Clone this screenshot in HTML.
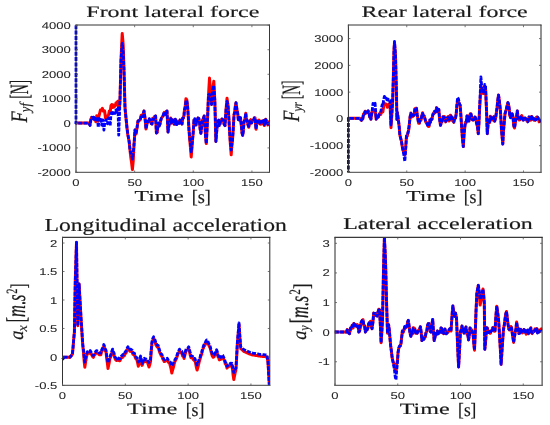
<!DOCTYPE html>
<html><head><meta charset="utf-8"><title>Vehicle dynamics plots</title>
<style>html,body{margin:0;padding:0;background:#fff;}svg{display:block;}text{text-rendering:geometricPrecision;}</style></head>
<body><svg width="550" height="425" viewBox="0 0 550 425">
<rect width="550" height="425" fill="#fff"/>
<g transform="translate(86.30,17.00) scale(1.1986,0.8000)"><text x="0" y="0" font-family="'Liberation Serif', serif" font-size="20" fill="#1a1a1a" stroke="#1a1a1a" stroke-width="0.2">Front lateral force</text></g>
<g transform="translate(361.40,16.90) scale(1.1978,0.8067)"><text x="0" y="0" font-family="'Liberation Serif', serif" font-size="20" fill="#1a1a1a" stroke="#1a1a1a" stroke-width="0.2">Rear lateral force</text></g>
<g transform="translate(44.51,230.67) scale(1.1824,0.9173)"><text x="0" y="0" font-family="'Liberation Serif', serif" font-size="20" fill="#1a1a1a" stroke="#1a1a1a" stroke-width="0.2">Longitudinal acceleration</text></g>
<g transform="translate(343.20,229.39) scale(1.1987,0.8271)"><text x="0" y="0" font-family="'Liberation Serif', serif" font-size="20" fill="#1a1a1a" stroke="#1a1a1a" stroke-width="0.2">Lateral acceleration</text></g>
<g transform="translate(134.50,201.22) scale(1.1877,0.7571)"><text x="0" y="0" font-family="'Liberation Serif', serif" font-size="20" fill="#1a1a1a" stroke="#1a1a1a" stroke-width="0.2">Time</text></g>
<g transform="translate(191.66,202.78) scale(0.9081,0.9412)"><text x="0" y="0" font-family="'Liberation Serif', serif" font-size="20" fill="#1a1a1a" stroke="#1a1a1a" stroke-width="0.2">[s]</text></g>
<g transform="translate(406.10,201.22) scale(1.1926,0.7571)"><text x="0" y="0" font-family="'Liberation Serif', serif" font-size="20" fill="#1a1a1a" stroke="#1a1a1a" stroke-width="0.2">Time</text></g>
<g transform="translate(463.69,202.78) scale(0.8865,0.9412)"><text x="0" y="0" font-family="'Liberation Serif', serif" font-size="20" fill="#1a1a1a" stroke="#1a1a1a" stroke-width="0.2">[s]</text></g>
<g transform="translate(126.90,414.40) scale(1.2172,0.8000)"><text x="0" y="0" font-family="'Liberation Serif', serif" font-size="20" fill="#1a1a1a" stroke="#1a1a1a" stroke-width="0.2">Time</text></g>
<g transform="translate(185.69,415.58) scale(0.8865,0.9412)"><text x="0" y="0" font-family="'Liberation Serif', serif" font-size="20" fill="#1a1a1a" stroke="#1a1a1a" stroke-width="0.2">[s]</text></g>
<g transform="translate(399.70,414.01) scale(1.2025,0.7857)"><text x="0" y="0" font-family="'Liberation Serif', serif" font-size="20" fill="#1a1a1a" stroke="#1a1a1a" stroke-width="0.2">Time</text></g>
<g transform="translate(458.12,415.58) scale(0.8649,0.9412)"><text x="0" y="0" font-family="'Liberation Serif', serif" font-size="20" fill="#1a1a1a" stroke="#1a1a1a" stroke-width="0.2">[s]</text></g>
<g transform="translate(27.00,122.57) rotate(-90) scale(0.9098,1.1778)"><text x="0" y="0" font-family="'Liberation Serif', serif" font-size="20" font-style="italic" fill="#1a1a1a" stroke="#1a1a1a" stroke-width="0.2">F</text></g>
<g transform="translate(29.64,112.16) rotate(-90) scale(0.6486,0.7474)"><text x="0" y="0" font-family="'Liberation Serif', serif" font-size="20" font-style="italic" fill="#1a1a1a" stroke="#1a1a1a" stroke-width="0.2">yf</text></g>
<g transform="translate(28.25,98.85) rotate(-90) scale(0.6812,1.3176)"><text x="0" y="0" font-family="'Liberation Serif', serif" font-size="20" fill="#1a1a1a" stroke="#1a1a1a" stroke-width="0.2">[N]</text></g>
<g transform="translate(298.90,121.87) rotate(-90) scale(0.9098,1.1704)"><text x="0" y="0" font-family="'Liberation Serif', serif" font-size="20" font-style="italic" fill="#1a1a1a" stroke="#1a1a1a" stroke-width="0.2">F</text></g>
<g transform="translate(301.68,111.60) rotate(-90) scale(0.5730,0.7158)"><text x="0" y="0" font-family="'Liberation Serif', serif" font-size="20" font-style="italic" fill="#1a1a1a" stroke="#1a1a1a" stroke-width="0.2">yr</text></g>
<g transform="translate(300.43,99.25) rotate(-90) scale(0.6772,1.3235)"><text x="0" y="0" font-family="'Liberation Serif', serif" font-size="20" fill="#1a1a1a" stroke="#1a1a1a" stroke-width="0.2">[N]</text></g>
<g transform="translate(22.90,339.66) rotate(-90) scale(0.9111,1.0049)"><text x="0" y="0" font-family="'Liberation Serif', serif" font-size="20" font-style="italic" fill="#1a1a1a" stroke="#1a1a1a" stroke-width="0.2">a</text></g>
<g transform="translate(26.92,331.44) rotate(-90) scale(0.7135,0.7179)"><text x="0" y="0" font-family="'Liberation Serif', serif" font-size="20" font-style="italic" fill="#1a1a1a" stroke="#1a1a1a" stroke-width="0.2">x</text></g>
<g transform="translate(25.04,322.53) rotate(-90) scale(0.8279,1.3529)"><text x="0" y="0" font-family="'Liberation Serif', serif" font-size="20" fill="#1a1a1a" stroke="#1a1a1a" stroke-width="0.2">[<tspan font-style="italic">m</tspan>.<tspan font-style="italic">s</tspan></text></g>
<g transform="translate(25.85,293.67) rotate(-90) scale(0.7404,1.1181)"><text x="0" y="0" font-family="'Liberation Serif', serif" font-size="20" fill="#1a1a1a" stroke="#1a1a1a" stroke-width="0.2"><tspan font-size="14" dy="-8">2</tspan><tspan dy="8">]</tspan></text></g>
<g transform="translate(305.70,339.66) rotate(-90) scale(0.9111,1.0049)"><text x="0" y="0" font-family="'Liberation Serif', serif" font-size="20" font-style="italic" fill="#1a1a1a" stroke="#1a1a1a" stroke-width="0.2">a</text></g>
<g transform="translate(309.49,330.73) rotate(-90) scale(0.6140,0.7357)"><text x="0" y="0" font-family="'Liberation Serif', serif" font-size="20" font-style="italic" fill="#1a1a1a" stroke="#1a1a1a" stroke-width="0.2">y</text></g>
<g transform="translate(308.41,323.31) rotate(-90) scale(0.8062,1.3294)"><text x="0" y="0" font-family="'Liberation Serif', serif" font-size="20" fill="#1a1a1a" stroke="#1a1a1a" stroke-width="0.2">[<tspan font-style="italic">m</tspan>.<tspan font-style="italic">s</tspan></text></g>
<g transform="translate(308.72,294.70) rotate(-90) scale(0.8000,1.1277)"><text x="0" y="0" font-family="'Liberation Serif', serif" font-size="20" fill="#1a1a1a" stroke="#1a1a1a" stroke-width="0.2"><tspan font-size="14" dy="-8">2</tspan><tspan dy="8">]</tspan></text></g>
<clipPath id="cTL"><rect x="74.0" y="25.2" width="195.5" height="147.26000000000002"/></clipPath>
<polyline clip-path="url(#cTL)" points="75.7,123.1 76.4,123.1 77.2,123.1 77.9,123.1 78.7,123.1 79.4,123.1 80.1,123.1 80.9,123.1 81.6,123.1 82.3,123.1 83.1,123.1 83.8,123.1 84.6,123.1 85.3,123.1 86.0,123.1 86.8,123.1 87.5,123.1 88.3,123.1 89.0,123.1 90.0,125.0 91.0,119.0 91.7,117.2 92.3,117.6 93.0,118.5 93.7,117.4 94.3,119.5 95.0,118.0 95.8,121.7 96.7,115.8 97.5,118.0 98.2,121.0 98.8,116.5 99.5,114.0 100.4,110.0 101.1,109.9 101.8,109.8 102.4,108.4 103.0,111.0 103.9,110.5 104.6,111.0 105.5,118.0 106.0,117.5 106.7,117.9 107.4,116.0 108.5,115.0 109.3,111.1 110.2,112.0 111.0,105.5 111.7,104.5 112.3,107.5 113.0,105.0 113.7,107.3 114.5,106.3 115.2,106.0 115.9,103.1 116.6,104.8 117.3,101.8 118.0,101.2 118.7,110.0 119.3,107.8 120.0,100.0 121.0,60.0 121.6,46.5 122.2,33.5 123.2,45.0 124.0,70.0 125.0,108.0 126.0,118.0 127.0,128.0 127.8,134.8 128.5,138.0 129.2,142.4 130.0,150.0 130.8,157.5 131.5,162.0 132.4,169.5 133.3,160.0 134.0,145.0 135.0,130.0 136.0,134.0 137.0,128.0 138.0,121.0 138.7,121.1 139.3,120.5 140.0,120.0 140.7,117.6 141.3,115.2 142.0,116.0 142.7,115.7 143.3,113.6 144.0,111.0 145.0,118.0 146.0,129.0 146.7,125.4 147.3,122.0 148.0,122.0 148.7,121.2 149.3,119.4 150.0,120.0 150.7,122.0 151.3,123.7 152.0,124.0 152.7,118.3 153.3,119.4 154.0,119.0 154.8,116.3 155.6,116.0 156.4,133.0 157.2,132.7 158.0,125.0 158.7,123.4 159.3,125.2 160.0,124.0 160.8,119.6 161.5,118.2 162.2,117.2 163.0,116.0 163.7,114.0 164.3,112.4 165.0,113.0 165.7,114.8 166.3,112.2 167.0,111.0 168.0,132.0 168.7,126.9 169.3,123.9 170.0,122.0 170.7,117.9 171.3,123.3 172.0,120.0 172.7,119.7 173.3,120.2 174.0,124.0 174.7,124.3 175.3,119.6 176.0,121.0 176.7,124.3 177.3,121.1 178.0,123.0 178.7,122.5 179.3,123.1 180.0,120.0 180.7,121.5 181.3,121.7 182.0,124.0 182.7,117.9 183.3,118.4 184.0,115.0 184.6,109.0 185.3,105.5 185.9,98.8 186.7,99.4 187.5,105.0 188.2,115.3 189.0,130.0 189.7,139.8 190.5,147.9 191.2,157.0 191.8,150.2 192.5,140.0 193.2,132.9 194.0,120.0 194.7,119.5 195.3,121.3 196.0,125.0 196.7,119.9 197.3,120.7 198.0,118.0 198.8,118.4 199.5,122.0 200.2,129.5 200.9,133.3 201.7,126.6 202.5,120.0 203.3,118.6 204.2,116.0 204.9,125.5 205.6,136.2 206.3,143.6 206.9,131.7 207.5,120.0 208.5,95.0 209.5,78.0 210.5,90.0 211.6,104.4 212.7,90.0 213.8,81.2 214.8,100.0 215.9,141.5 217.0,128.0 218.0,121.0 218.7,120.5 219.3,125.0 220.0,124.0 220.7,120.0 221.3,120.3 222.0,119.0 222.7,120.0 223.3,120.5 224.0,124.0 225.0,125.6 226.0,110.0 227.0,98.3 228.0,105.0 228.8,116.9 229.5,130.0 230.3,143.1 231.2,154.8 231.8,146.7 232.5,140.0 233.2,129.9 234.0,115.0 234.7,111.5 235.3,106.5 236.0,102.7 237.0,110.0 237.7,112.9 238.3,119.5 239.0,117.8 239.8,120.7 240.5,117.7 241.2,124.3 242.0,133.2 242.7,135.4 243.3,130.7 244.0,122.0 244.9,119.7 245.8,113.3 246.4,119.8 247.0,120.0 248.0,124.8 248.7,127.3 249.3,125.1 250.0,121.0 250.8,119.7 251.5,123.0 252.2,120.9 253.0,120.0 253.7,120.2 254.3,118.0 255.0,117.7 256.0,129.2 257.0,122.0 257.7,121.6 258.3,120.6 259.0,120.0 259.7,123.6 260.3,124.2 261.0,124.0 261.7,121.4 262.3,123.8 263.0,121.0 263.7,121.4 264.3,125.6 265.0,123.0 265.7,119.2 266.3,120.7 267.0,121.0 267.8,125.0 268.6,121.9 269.4,122.0" fill="none" stroke="#f00" stroke-width="3.0" stroke-linejoin="round"/>
<polyline clip-path="url(#cTL)" points="76.0,20.0 76.0,123.1 75.7,123.1 76.4,123.1 77.2,123.1 77.9,123.1 78.7,123.1 79.4,123.1 80.1,123.1 80.9,123.1 81.6,123.1 82.3,123.1 83.1,123.1 83.8,123.1 84.6,123.1 85.3,123.1 86.0,123.1 86.8,123.1 87.5,123.1 88.3,123.1 89.0,123.1 90.0,125.5 91.0,119.0 91.7,117.4 92.3,117.5 93.0,118.5 93.7,117.2 94.3,119.4 95.0,118.2 95.8,121.3 96.7,116.9 97.5,118.2 98.2,127.4 98.8,122.2 99.5,119.0 100.4,117.5 101.1,120.9 101.8,125.2 102.4,119.9 103.0,120.0 103.9,130.2 104.6,124.0 105.5,121.0 106.0,119.6 106.7,122.8 107.4,123.8 108.5,118.0 109.3,119.5 110.2,126.0 111.0,113.2 111.7,112.7 112.3,114.6 113.0,112.5 113.7,115.4 114.5,113.0 115.2,113.2 115.9,109.9 116.6,112.0 117.3,109.5 118.0,108.3 118.7,135.1 119.3,119.9 120.0,100.0 121.0,60.0 121.6,51.6 122.2,43.3 123.2,52.0 124.0,70.0 125.0,108.0 126.0,118.0 127.0,128.0 127.8,134.1 128.5,138.0 129.2,141.5 130.0,150.0 130.8,152.9 131.5,154.0 132.4,159.0 133.3,152.0 134.0,145.0 135.0,130.0 136.0,134.0 137.0,128.0 138.0,121.0 138.7,120.7 139.3,119.6 140.0,120.0 140.7,118.0 141.3,114.9 142.0,116.0 142.7,116.6 143.3,113.1 144.0,111.0 145.0,118.0 146.0,129.0 146.7,125.4 147.3,121.2 148.0,122.0 148.7,120.6 149.3,118.7 150.0,120.0 150.7,121.1 151.3,123.7 152.0,124.0 152.7,119.2 153.3,119.1 154.0,119.0 154.8,116.4 155.6,116.0 156.4,133.0 157.2,131.9 158.0,125.0 158.7,123.0 159.3,126.2 160.0,124.0 160.8,120.5 161.5,118.1 162.2,117.7 163.0,116.0 163.7,113.5 164.3,111.8 165.0,113.0 165.7,114.3 166.3,111.4 167.0,111.0 168.0,132.0 168.7,126.6 169.3,123.1 170.0,122.0 170.7,118.7 171.3,122.8 172.0,120.0 172.7,119.9 173.3,120.9 174.0,124.0 174.7,123.5 175.3,119.1 176.0,121.0 176.7,124.7 177.3,120.7 178.0,123.0 178.7,123.3 179.3,123.1 180.0,120.0 180.7,122.3 181.3,121.6 182.0,124.0 182.7,118.1 183.3,118.0 184.0,115.0 184.6,109.4 185.3,107.3 185.9,101.5 186.7,100.3 187.5,105.0 188.2,115.2 189.0,130.0 189.7,137.7 190.5,144.1 191.2,151.8 191.8,147.0 192.5,140.0 193.2,132.3 194.0,120.0 194.7,118.6 195.3,121.7 196.0,125.0 196.7,119.6 197.3,121.3 198.0,118.0 198.8,118.5 199.5,122.0 200.2,129.3 200.9,133.3 201.7,126.1 202.5,120.0 203.3,118.7 204.2,116.0 204.9,126.2 205.6,137.2 206.3,143.6 206.9,132.5 207.5,120.0 208.5,95.0 209.5,94.0 210.5,98.0 211.6,104.4 212.7,90.0 213.8,85.4 214.8,100.0 215.9,141.5 217.0,128.0 218.0,121.0 218.7,120.1 219.3,125.7 220.0,124.0 220.7,120.1 221.3,120.1 222.0,119.0 222.7,119.5 223.3,120.1 224.0,124.0 225.0,125.6 226.0,110.0 227.0,101.3 228.0,105.0 228.8,117.8 229.5,130.0 230.3,141.1 231.2,150.0 231.8,144.7 232.5,140.0 233.2,129.7 234.0,115.0 234.7,112.2 235.3,106.8 236.0,102.7 237.0,110.0 237.7,113.9 238.3,119.5 239.0,117.2 239.8,120.9 240.5,117.7 241.2,123.6 242.0,132.7 242.7,135.4 243.3,131.5 244.0,122.0 244.9,119.2 245.8,113.3 246.4,119.6 247.0,120.0 248.0,124.8 248.7,126.4 249.3,124.6 250.0,121.0 250.8,119.9 251.5,123.0 252.2,121.8 253.0,120.0 253.7,119.8 254.3,117.8 255.0,117.7 256.0,129.2 257.0,122.0 257.7,121.4 258.3,119.9 259.0,120.0 259.7,122.9 260.3,123.6 261.0,124.0 261.7,121.3 262.3,123.7 263.0,121.0 263.7,120.5 264.3,124.6 265.0,123.0 265.7,119.5 266.3,121.2 267.0,121.0 267.8,124.1 268.6,122.7 269.4,122.0" fill="none" stroke="#00f" stroke-width="2.8" stroke-dasharray="4 1.3" stroke-linejoin="round"/>
<line x1="76.0" y1="24.7" x2="76.0" y2="172.96" stroke="#262626" stroke-width="1"/>
<line x1="75.5" y1="25.0" x2="270.0" y2="25.0" stroke="#333" stroke-width="1"/>
<line x1="269.5" y1="24.7" x2="269.5" y2="172.96" stroke="#383838" stroke-width="1"/>
<line x1="75.5" y1="172.46" x2="270.0" y2="172.46" stroke="#666" stroke-width="1.3"/>
<text transform="translate(76.00,185.91) scale(1.3057,0.9857)" x="0" y="0" text-anchor="middle" font-family="'Liberation Sans', sans-serif" font-size="10" fill="#262626" stroke="#262626" stroke-width="0.06">0</text>
<text transform="translate(134.64,185.91) scale(1.3057,0.9857)" x="0" y="0" text-anchor="middle" font-family="'Liberation Sans', sans-serif" font-size="10" fill="#262626" stroke="#262626" stroke-width="0.06">50</text>
<text transform="translate(193.27,185.91) scale(1.3057,0.9857)" x="0" y="0" text-anchor="middle" font-family="'Liberation Sans', sans-serif" font-size="10" fill="#262626" stroke="#262626" stroke-width="0.06">100</text>
<text transform="translate(251.91,185.91) scale(1.3057,0.9857)" x="0" y="0" text-anchor="middle" font-family="'Liberation Sans', sans-serif" font-size="10" fill="#262626" stroke="#262626" stroke-width="0.06">150</text>
<text transform="translate(70.80,176.01) scale(1.3057,0.9857)" x="0" y="0" text-anchor="end" font-family="'Liberation Sans', sans-serif" font-size="10" fill="#262626" stroke="#262626" stroke-width="0.06">-2000</text>
<text transform="translate(70.80,151.47) scale(1.3057,0.9857)" x="0" y="0" text-anchor="end" font-family="'Liberation Sans', sans-serif" font-size="10" fill="#262626" stroke="#262626" stroke-width="0.06">-1000</text>
<text transform="translate(70.80,126.92) scale(1.3057,0.9857)" x="0" y="0" text-anchor="end" font-family="'Liberation Sans', sans-serif" font-size="10" fill="#262626" stroke="#262626" stroke-width="0.06">0</text>
<text transform="translate(70.80,102.38) scale(1.3057,0.9857)" x="0" y="0" text-anchor="end" font-family="'Liberation Sans', sans-serif" font-size="10" fill="#262626" stroke="#262626" stroke-width="0.06">1000</text>
<text transform="translate(70.80,77.84) scale(1.3057,0.9857)" x="0" y="0" text-anchor="end" font-family="'Liberation Sans', sans-serif" font-size="10" fill="#262626" stroke="#262626" stroke-width="0.06">2000</text>
<text transform="translate(70.80,53.29) scale(1.3057,0.9857)" x="0" y="0" text-anchor="end" font-family="'Liberation Sans', sans-serif" font-size="10" fill="#262626" stroke="#262626" stroke-width="0.06">3000</text>
<text transform="translate(70.80,28.75) scale(1.3057,0.9857)" x="0" y="0" text-anchor="end" font-family="'Liberation Sans', sans-serif" font-size="10" fill="#262626" stroke="#262626" stroke-width="0.06">4000</text>
<path d="M76.00,172.46v-2.0M76.00,25.2v2.0M134.64,172.46v-2.0M134.64,25.2v2.0M193.27,172.46v-2.0M193.27,25.2v2.0M251.91,172.46v-2.0M251.91,25.2v2.0M76.0,172.46h2.0M269.5,172.46h-2.0M76.0,147.92h2.0M269.5,147.92h-2.0M76.0,123.37h2.0M269.5,123.37h-2.0M76.0,98.83h2.0M269.5,98.83h-2.0M76.0,74.29h2.0M269.5,74.29h-2.0M76.0,49.74h2.0M269.5,49.74h-2.0M76.0,25.20h2.0M269.5,25.20h-2.0" stroke="#555" stroke-width="0.8" fill="none"/>
<clipPath id="cTR"><rect x="346.4" y="25.2" width="194.60000000000002" height="147.26000000000002"/></clipPath>
<polyline clip-path="url(#cTR)" points="348.2,118.3 349.0,118.3 349.7,118.3 350.5,118.3 351.3,118.3 352.1,118.3 352.8,118.3 353.6,118.3 354.4,118.3 355.2,118.3 355.9,118.3 356.7,118.3 357.5,118.3 358.3,118.3 359.0,118.3 359.8,118.3 360.6,119.4 361.4,120.3 362.1,118.2 362.8,119.0 363.5,113.9 364.3,113.6 365.1,111.2 365.9,113.3 366.7,112.0 367.5,112.2 368.2,111.2 369.0,112.5 369.6,117.1 370.3,116.1 370.9,119.2 372.0,112.0 373.0,109.7 373.7,111.2 374.4,110.1 375.1,110.5 376.2,119.2 376.9,116.7 377.6,116.6 378.3,117.1 379.1,114.7 380.0,113.0 380.8,114.4 381.5,111.8 382.2,109.5 382.9,111.9 383.6,106.5 384.4,103.2 385.2,104.3 386.0,104.0 386.7,104.5 387.3,107.3 388.0,105.0 388.7,105.1 389.3,103.9 390.0,103.3 391.0,127.7 391.9,113.5 392.7,100.0 393.4,74.8 394.0,50.0 394.5,42.5 395.5,55.0 396.5,95.0 396.9,119.4 397.4,112.6 398.5,121.0 399.2,126.9 399.9,135.1 400.6,138.0 401.4,140.8 402.3,146.9 403.1,150.7 404.0,152.8 404.8,155.0 405.6,147.7 406.5,135.9 407.2,136.3 408.0,132.7 408.7,129.8 409.4,123.5 410.1,116.8 410.9,113.0 411.7,117.0 412.5,116.6 413.3,114.7 414.1,115.5 414.9,108.8 415.7,108.3 416.5,108.3 417.2,114.4 417.9,118.6 418.6,123.2 419.4,123.2 420.2,119.4 421.0,120.3 421.8,115.7 422.6,112.8 423.4,116.2 424.2,116.1 425.0,118.9 425.8,122.2 426.6,122.4 427.4,124.6 428.2,126.3 429.0,126.5 429.8,120.6 430.5,121.7 431.3,118.9 432.1,118.5 432.9,114.8 433.7,112.9 434.5,111.5 435.2,112.7 435.9,111.2 436.6,107.6 437.4,111.5 438.1,109.4 438.8,109.4 439.6,118.8 440.5,125.3 441.3,122.9 442.2,121.1 443.0,116.8 443.7,117.6 444.3,116.6 445.0,119.0 445.7,121.9 446.5,120.4 447.2,117.9 448.1,116.6 449.0,121.0 449.7,116.6 450.3,115.2 451.0,116.0 451.7,120.3 452.3,118.0 453.0,120.0 453.8,122.4 454.7,118.7 455.5,118.0 456.2,114.4 456.9,106.1 457.6,101.4 458.5,101.5 459.3,103.8 460.2,105.3 460.9,115.4 461.5,125.0 462.4,138.2 463.3,146.6 464.1,134.0 465.0,125.0 465.7,122.2 466.3,122.5 467.0,116.0 467.7,120.6 468.3,115.9 469.0,121.0 469.7,117.1 470.3,113.8 471.0,114.0 471.7,116.9 472.3,119.8 473.0,120.0 473.7,118.8 474.3,118.5 475.0,117.0 475.8,118.1 476.5,123.0 477.4,126.5 478.3,133.7 478.9,123.7 479.5,110.0 480.2,99.5 480.9,85.9 482.0,90.0 482.7,90.0 483.4,93.6 484.1,92.8 484.8,86.6 485.5,88.0 486.5,110.0 487.3,133.7 488.1,123.6 489.0,120.0 489.7,122.5 490.3,116.3 491.0,117.0 491.7,117.7 492.3,119.9 493.0,120.0 493.9,116.6 494.7,121.2 495.6,118.0 496.3,113.5 497.0,108.0 497.8,100.1 498.5,95.1 499.1,98.9 499.8,104.9 500.4,110.0 501.5,130.0 502.1,136.5 502.8,144.0 503.4,131.8 504.0,125.0 505.0,113.9 505.7,111.2 506.4,109.3 507.2,105.5 507.9,102.6 508.5,104.5 509.2,108.3 509.8,115.8 510.6,117.3 511.4,114.2 512.2,113.9 513.0,117.2 513.7,125.7 514.5,128.0 515.2,123.6 516.0,118.0 516.6,116.3 517.3,111.0 518.1,117.1 519.0,120.0 519.7,119.8 520.3,118.9 521.0,117.0 521.7,115.6 522.3,117.0 523.0,120.0 523.7,119.7 524.3,119.2 525.0,118.0 525.7,119.0 526.3,118.7 527.0,121.0 527.7,121.3 528.3,120.9 529.0,117.0 529.7,117.0 530.3,120.2 531.0,120.0 531.7,116.4 532.3,119.3 533.0,118.0 533.7,119.1 534.3,120.3 535.0,120.0 535.7,120.0 536.3,117.4 537.0,117.0 537.7,117.5 538.4,119.1 539.1,121.9 539.8,121.0 540.5,119.0" fill="none" stroke="#f00" stroke-width="3.0" stroke-linejoin="round"/>
<polyline clip-path="url(#cTR)" points="348.4,180.0 348.4,118.3 348.2,118.3 349.0,118.3 349.7,118.3 350.5,118.3 351.3,118.3 352.1,118.3 352.8,118.3 353.6,118.3 354.4,118.3 355.2,118.3 355.9,118.3 356.7,118.3 357.5,118.3 358.3,118.3 359.0,118.3 359.8,118.3 360.6,119.2 361.4,120.3 362.1,117.7 362.8,118.4 363.5,113.9 364.3,114.2 365.1,111.7 365.9,112.8 366.7,112.0 367.5,112.4 368.2,110.8 369.0,112.5 369.6,116.6 370.3,116.0 370.9,119.2 372.0,112.0 373.0,103.3 373.7,104.5 374.4,104.0 375.1,103.3 376.2,119.2 376.9,116.2 377.6,116.1 378.3,117.1 379.1,114.7 380.0,113.0 380.8,111.8 381.5,107.6 382.2,104.6 382.9,105.5 383.6,100.0 384.4,96.4 385.2,98.9 386.0,98.0 386.7,98.9 387.3,101.6 388.0,99.0 388.7,100.1 389.3,99.5 390.0,100.1 391.0,125.0 391.9,112.5 392.7,100.0 393.4,75.0 394.0,50.0 394.5,41.5 395.5,55.0 396.5,95.0 396.9,119.4 397.4,112.6 398.5,121.0 399.2,126.6 399.9,135.3 400.6,138.0 401.4,141.1 402.3,146.7 403.1,150.7 404.0,155.8 404.8,161.3 405.6,151.5 406.5,135.9 407.2,135.4 408.0,132.7 408.7,129.1 409.4,124.0 410.1,116.8 410.9,113.3 411.7,116.9 412.5,117.3 413.3,114.7 414.1,114.8 414.9,109.1 415.7,107.7 416.5,108.3 417.2,115.0 417.9,119.2 418.6,123.2 419.4,122.7 420.2,119.7 421.0,119.6 421.8,115.7 422.6,113.5 423.4,116.0 424.2,116.2 425.0,118.9 425.8,122.1 426.6,122.9 427.4,124.9 428.2,126.3 429.0,126.1 429.8,119.9 430.5,122.5 431.3,118.9 432.1,119.2 432.9,114.1 433.7,113.7 434.5,111.5 435.2,111.9 435.9,110.9 436.6,107.9 437.4,111.5 438.1,109.2 438.8,109.4 439.6,119.3 440.5,125.3 441.3,122.4 442.2,121.3 443.0,116.8 443.7,118.1 444.3,117.4 445.0,119.0 445.7,121.4 446.5,120.3 447.2,117.9 448.1,117.3 449.0,121.0 449.7,116.5 450.3,116.1 451.0,116.0 451.7,119.6 452.3,117.3 453.0,120.0 453.8,122.0 454.7,118.0 455.5,118.0 456.2,113.6 456.9,104.3 457.6,97.5 458.5,99.0 459.3,103.2 460.2,105.3 460.9,115.9 461.5,125.0 462.4,137.7 463.3,146.6 464.1,133.4 465.0,125.0 465.7,122.0 466.3,121.9 467.0,116.0 467.7,120.3 468.3,116.3 469.0,121.0 469.7,116.3 470.3,114.4 471.0,114.0 471.7,116.8 472.3,119.4 473.0,120.0 473.7,119.5 474.3,119.3 475.0,117.0 475.8,118.8 476.5,123.0 477.4,125.7 478.3,133.7 478.9,123.8 479.5,110.0 480.2,94.4 480.9,76.8 482.0,90.0 482.7,89.9 483.4,92.0 484.1,90.4 484.8,84.4 485.5,84.6 486.5,110.0 487.3,133.7 488.1,124.3 489.0,120.0 489.7,121.9 490.3,116.8 491.0,117.0 491.7,118.3 492.3,120.1 493.0,120.0 493.9,117.3 494.7,121.1 495.6,118.0 496.3,112.9 497.0,108.0 497.8,100.3 498.5,95.1 499.1,99.0 499.8,105.1 500.4,110.0 501.5,130.0 502.1,136.3 502.8,144.0 503.4,131.7 504.0,125.0 505.0,113.9 505.7,111.2 506.4,108.6 507.2,104.7 507.9,102.6 508.5,104.2 509.2,109.2 509.8,115.8 510.6,117.8 511.4,113.8 512.2,113.9 513.0,117.1 513.7,125.0 514.5,128.0 515.2,123.6 516.0,118.0 516.6,116.6 517.3,111.0 518.1,117.4 519.0,120.0 519.7,119.4 520.3,118.6 521.0,117.0 521.7,116.1 522.3,117.0 523.0,120.0 523.7,120.1 524.3,119.0 525.0,118.0 525.7,118.7 526.3,119.3 527.0,121.0 527.7,121.9 528.3,120.3 529.0,117.0 529.7,117.3 530.3,120.5 531.0,120.0 531.7,116.6 532.3,119.0 533.0,118.0 533.7,118.3 534.3,121.1 535.0,120.0 535.7,120.0 536.3,117.1 537.0,117.0 537.7,117.2 538.4,118.2 539.1,121.0 539.8,121.3 540.5,119.0" fill="none" stroke="#00f" stroke-width="2.8" stroke-dasharray="4 1.3" stroke-linejoin="round"/>
<line x1="348.4" y1="24.7" x2="348.4" y2="172.96" stroke="#262626" stroke-width="1"/>
<line x1="347.9" y1="25.0" x2="541.5" y2="25.0" stroke="#333" stroke-width="1"/>
<line x1="541.0" y1="24.7" x2="541.0" y2="172.96" stroke="#262626" stroke-width="1"/>
<line x1="347.9" y1="172.46" x2="541.5" y2="172.46" stroke="#666" stroke-width="1.3"/>
<text transform="translate(348.40,185.91) scale(1.3057,0.9857)" x="0" y="0" text-anchor="middle" font-family="'Liberation Sans', sans-serif" font-size="10" fill="#262626" stroke="#262626" stroke-width="0.06">0</text>
<text transform="translate(406.76,185.91) scale(1.3057,0.9857)" x="0" y="0" text-anchor="middle" font-family="'Liberation Sans', sans-serif" font-size="10" fill="#262626" stroke="#262626" stroke-width="0.06">50</text>
<text transform="translate(465.13,185.91) scale(1.3057,0.9857)" x="0" y="0" text-anchor="middle" font-family="'Liberation Sans', sans-serif" font-size="10" fill="#262626" stroke="#262626" stroke-width="0.06">100</text>
<text transform="translate(523.49,185.91) scale(1.3057,0.9857)" x="0" y="0" text-anchor="middle" font-family="'Liberation Sans', sans-serif" font-size="10" fill="#262626" stroke="#262626" stroke-width="0.06">150</text>
<text transform="translate(343.20,176.01) scale(1.3057,0.9857)" x="0" y="0" text-anchor="end" font-family="'Liberation Sans', sans-serif" font-size="10" fill="#262626" stroke="#262626" stroke-width="0.06">-2000</text>
<text transform="translate(343.20,149.24) scale(1.3057,0.9857)" x="0" y="0" text-anchor="end" font-family="'Liberation Sans', sans-serif" font-size="10" fill="#262626" stroke="#262626" stroke-width="0.06">-1000</text>
<text transform="translate(343.20,122.46) scale(1.3057,0.9857)" x="0" y="0" text-anchor="end" font-family="'Liberation Sans', sans-serif" font-size="10" fill="#262626" stroke="#262626" stroke-width="0.06">0</text>
<text transform="translate(343.20,95.69) scale(1.3057,0.9857)" x="0" y="0" text-anchor="end" font-family="'Liberation Sans', sans-serif" font-size="10" fill="#262626" stroke="#262626" stroke-width="0.06">1000</text>
<text transform="translate(343.20,68.91) scale(1.3057,0.9857)" x="0" y="0" text-anchor="end" font-family="'Liberation Sans', sans-serif" font-size="10" fill="#262626" stroke="#262626" stroke-width="0.06">2000</text>
<text transform="translate(343.20,42.14) scale(1.3057,0.9857)" x="0" y="0" text-anchor="end" font-family="'Liberation Sans', sans-serif" font-size="10" fill="#262626" stroke="#262626" stroke-width="0.06">3000</text>
<path d="M348.40,172.46v-2.0M348.40,25.2v2.0M406.76,172.46v-2.0M406.76,25.2v2.0M465.13,172.46v-2.0M465.13,25.2v2.0M523.49,172.46v-2.0M523.49,25.2v2.0M348.4,172.46h2.0M541.0,172.46h-2.0M348.4,145.69h2.0M541.0,145.69h-2.0M348.4,118.91h2.0M541.0,118.91h-2.0M348.4,92.14h2.0M541.0,92.14h-2.0M348.4,65.36h2.0M541.0,65.36h-2.0M348.4,38.59h2.0M541.0,38.59h-2.0" stroke="#555" stroke-width="0.8" fill="none"/>
<clipPath id="cBL"><rect x="60.5" y="237.4" width="209.3" height="148.05999999999997"/></clipPath>
<polyline clip-path="url(#cBL)" points="62.4,357.2 63.2,357.2 63.9,357.2 64.7,357.2 65.4,357.2 66.2,357.2 67.0,357.2 67.7,357.2 68.5,357.2 69.2,357.2 70.0,357.2 70.8,356.2 71.6,355.3 72.4,354.3 73.1,346.9 73.7,339.4 74.4,332.0 75.3,280.0 75.9,261.1 76.5,242.3 77.3,300.0 77.8,325.8 78.6,294.9 79.1,283.9 80.0,300.0 81.0,318.8 81.9,332.5 82.8,346.2 83.5,352.7 84.1,360.5 84.8,367.2 85.6,362.0 86.4,357.7 87.2,353.6 88.0,353.2 88.7,352.6 89.5,353.2 90.2,352.3 91.0,353.5 91.8,355.1 92.6,356.6 93.4,357.3 94.3,355.0 95.1,354.5 96.0,352.8 96.8,352.3 97.6,353.0 98.4,353.6 99.2,354.7 100.0,354.5 100.8,354.8 101.5,351.8 102.3,350.5 103.0,348.9 103.8,346.3 104.6,348.2 105.3,350.6 106.1,352.4 106.7,358.8 107.4,363.3 108.0,368.5 108.7,364.9 109.3,362.3 110.0,358.5 110.9,356.1 111.7,353.2 112.6,350.9 113.3,353.3 113.9,354.6 114.6,357.3 115.3,359.3 116.1,360.2 116.8,360.5 117.6,359.2 118.3,360.0 119.1,360.8 119.9,360.8 120.6,359.4 121.4,357.8 122.2,357.6 123.0,356.3 123.7,356.3 124.5,355.5 125.2,353.7 125.9,353.0 126.5,351.8 127.2,350.0 127.9,348.6 128.6,349.5 129.2,349.1 129.9,351.2 130.6,350.9 131.4,351.6 132.1,352.0 132.9,354.2 133.7,354.7 134.4,355.0 135.2,357.3 135.9,358.8 136.7,359.3 137.5,362.2 138.3,366.2 139.1,364.1 139.8,361.3 140.6,357.8 141.3,361.4 142.1,365.4 142.9,363.5 143.6,361.4 144.4,360.1 145.2,361.5 145.9,360.9 146.7,361.8 147.5,362.4 148.2,364.6 149.0,367.0 149.8,364.6 150.5,361.6 151.2,351.9 152.0,343.2 152.8,340.4 153.6,338.6 154.4,341.2 155.1,341.8 155.9,344.8 156.7,346.1 157.4,347.1 158.2,347.1 158.9,349.7 159.7,352.3 160.4,353.9 161.2,355.7 161.9,356.0 162.7,358.9 163.4,359.9 164.2,361.6 164.9,361.4 165.7,360.6 166.4,360.4 167.2,360.1 168.0,361.6 168.7,362.5 169.5,363.1 170.3,365.8 171.0,368.7 171.8,373.1 172.6,370.2 173.4,367.4 174.1,364.2 174.9,361.6 175.7,359.9 176.4,358.8 177.2,356.2 178.0,353.9 178.7,352.6 179.5,350.9 180.3,352.2 181.0,352.9 181.8,353.2 182.6,356.0 183.3,356.0 184.1,358.5 184.9,355.2 185.6,352.3 186.4,350.1 187.2,349.9 187.9,349.8 188.7,348.6 189.5,351.2 190.2,355.0 191.0,357.8 191.8,357.7 192.5,357.9 193.3,359.5 194.0,360.3 194.8,360.1 195.6,363.2 196.3,367.0 197.1,370.0 197.9,367.4 198.6,364.4 199.4,361.2 200.2,358.5 201.0,355.6 201.7,354.3 202.5,350.1 203.2,348.5 204.0,346.3 204.7,345.6 205.3,344.5 206.0,342.8 206.7,341.7 207.6,342.5 208.4,344.2 209.3,346.3 210.1,347.9 210.9,351.2 211.6,353.7 212.4,356.2 213.2,357.3 214.1,356.7 214.9,354.8 215.8,353.7 216.6,351.6 217.3,353.5 217.9,356.5 218.6,357.4 219.3,359.9 220.0,358.5 220.7,359.4 221.3,358.3 222.0,356.7 222.8,357.2 223.7,359.1 224.5,360.9 225.3,363.9 226.2,365.0 227.0,368.1 227.7,367.2 228.3,366.3 229.0,366.3 229.7,366.1 230.4,364.9 231.1,366.1 231.8,365.0 232.5,369.6 233.1,375.0 233.8,379.6 234.5,376.0 235.2,372.6 235.9,370.2 236.7,357.2 237.4,343.3 238.2,334.1 239.0,324.6 239.8,337.0 240.7,348.5 241.4,349.1 242.1,349.7 242.8,350.4 243.5,351.0 244.2,351.6 244.9,351.9 245.7,352.2 246.4,352.5 247.1,352.8 247.8,353.2 248.6,353.5 249.3,353.8 250.0,354.1 250.8,354.4 251.5,354.7 252.3,354.8 253.0,355.0 253.8,355.1 254.5,355.2 255.3,355.3 256.0,355.5 256.8,355.6 257.5,355.7 258.3,355.8 259.0,356.0 259.8,356.1 260.5,356.2 261.2,356.2 262.0,356.3 262.7,356.4 263.4,356.4 264.1,356.5 264.8,356.6 265.6,356.7 266.3,356.7 267.0,356.8 268.0,362.2 268.7,374.1 269.4,386.0" fill="none" stroke="#f00" stroke-width="3.0" stroke-linejoin="round"/>
<polyline clip-path="url(#cBL)" points="62.4,359.5 64.0,357.6 62.4,357.2 63.2,357.2 63.9,357.2 64.7,357.2 65.4,357.2 66.2,357.2 67.0,357.2 67.7,357.2 68.5,357.2 69.2,357.2 70.0,357.2 70.8,356.2 71.6,355.3 72.4,354.3 73.1,346.9 73.7,339.4 74.4,332.0 75.3,280.0 75.9,261.1 76.5,242.3 77.3,300.0 77.8,325.8 78.6,294.9 79.1,283.9 80.0,300.0 81.0,317.0 81.9,330.7 82.8,344.4 83.5,349.6 84.1,356.2 84.8,362.0 85.6,357.7 86.4,354.6 87.2,351.8 88.0,351.4 88.7,350.8 89.5,351.4 90.2,350.5 91.0,351.9 91.8,353.4 92.6,355.0 93.4,355.5 94.3,353.2 95.1,352.5 96.0,351.0 96.8,350.6 97.6,351.4 98.4,351.8 99.2,353.1 100.0,352.6 100.8,353.0 101.5,350.2 102.3,348.8 103.0,347.0 103.8,344.5 104.6,346.4 105.3,348.7 106.1,350.6 106.7,355.6 107.4,359.1 108.0,362.9 108.7,360.5 109.3,359.2 110.0,356.7 110.9,354.2 111.7,351.5 112.6,349.1 113.3,351.7 113.9,352.7 114.6,355.5 115.3,357.5 116.1,358.1 116.8,358.9 117.6,357.6 118.3,357.9 119.1,359.0 119.9,358.8 120.6,357.9 121.4,356.0 122.2,355.6 123.0,354.4 123.7,354.7 124.5,353.7 125.2,351.7 125.9,351.0 126.5,349.9 127.2,348.0 127.9,346.8 128.6,347.9 129.2,347.5 129.9,349.4 130.6,349.1 131.4,349.8 132.1,350.1 132.9,352.6 133.7,352.9 134.4,353.3 135.2,355.4 135.9,357.2 136.7,357.5 137.5,359.5 138.3,362.0 139.1,360.7 139.8,358.5 140.6,356.0 141.3,359.4 142.1,363.6 142.9,361.6 143.6,359.5 144.4,358.3 145.2,359.8 145.9,358.9 146.7,360.1 147.5,360.6 148.2,361.5 149.0,362.5 149.8,361.4 150.5,359.8 151.2,349.8 152.0,341.4 152.8,338.4 153.6,336.8 154.4,339.6 155.1,340.1 155.9,343.0 156.7,344.1 157.4,345.4 158.2,345.3 158.9,347.9 159.7,350.7 160.4,352.1 161.2,354.0 161.9,354.4 162.7,357.1 163.4,358.3 164.2,359.8 164.9,359.8 165.7,358.6 166.4,358.6 167.2,358.3 168.0,359.6 168.7,361.0 169.5,361.3 170.3,362.1 171.0,363.5 171.8,365.9 172.6,364.6 173.4,362.8 174.1,361.1 174.9,359.8 175.7,358.4 176.4,357.0 177.2,354.5 178.0,352.0 178.7,350.8 179.5,349.1 180.3,350.5 181.0,351.1 181.8,351.4 182.6,354.0 183.3,354.0 184.1,356.7 184.9,353.3 185.6,350.6 186.4,348.3 187.2,348.4 187.9,348.0 188.7,346.8 189.5,349.2 190.2,352.9 191.0,356.0 191.8,356.0 192.5,356.1 193.3,357.8 194.0,358.5 194.8,358.3 195.6,360.4 196.3,363.0 197.1,365.0 197.9,363.3 198.6,360.8 199.4,358.6 200.2,356.7 201.0,353.5 201.7,352.4 202.5,348.5 203.2,346.7 204.0,344.5 204.7,343.9 205.3,342.5 206.0,340.8 206.7,339.9 207.6,340.6 208.4,342.6 209.3,344.5 210.1,346.1 210.9,349.4 211.6,351.7 212.4,354.4 213.2,355.3 214.1,354.9 214.9,353.1 215.8,352.0 216.6,349.8 217.3,351.8 217.9,354.8 218.6,355.8 219.3,358.1 220.0,356.6 220.7,357.4 221.3,356.4 222.0,354.9 222.8,355.4 223.7,357.5 224.5,359.1 225.3,362.0 226.2,363.5 227.0,366.3 227.7,365.6 228.3,364.7 229.0,364.3 229.7,364.3 230.4,363.2 231.1,364.2 231.8,363.2 232.5,366.3 233.1,369.8 233.8,372.6 234.5,370.7 235.2,369.2 235.9,368.4 236.7,355.3 237.4,341.5 238.2,332.5 239.0,322.8 239.8,335.1 240.7,346.7 241.4,347.3 242.1,347.9 242.8,348.6 243.5,349.2 244.2,349.8 244.9,350.1 245.7,350.4 246.4,350.7 247.1,351.0 247.8,351.4 248.6,351.7 249.3,352.0 250.0,352.3 250.8,352.6 251.5,352.9 252.3,353.0 253.0,353.2 253.8,353.3 254.5,353.4 255.3,353.5 256.0,353.7 256.8,353.8 257.5,353.9 258.3,354.0 259.0,354.2 259.8,354.3 260.5,354.4 261.2,354.4 262.0,354.5 262.7,354.6 263.4,354.6 264.1,354.7 264.8,354.8 265.6,354.9 266.3,354.9 267.0,355.0 268.0,362.2 268.7,374.1 269.4,386.0" fill="none" stroke="#00f" stroke-width="2.8" stroke-dasharray="4 1.3" stroke-linejoin="round"/>
<line x1="62.5" y1="236.9" x2="62.5" y2="385.96" stroke="#333" stroke-width="1"/>
<line x1="62.0" y1="237.4" x2="270.3" y2="237.4" stroke="#3a3a3a" stroke-width="1.2"/>
<line x1="269.8" y1="236.9" x2="269.8" y2="385.96" stroke="#262626" stroke-width="1"/>
<line x1="62.0" y1="385.46" x2="270.3" y2="385.46" stroke="#666" stroke-width="1.3"/>
<text transform="translate(62.50,398.91) scale(1.3057,0.9857)" x="0" y="0" text-anchor="middle" font-family="'Liberation Sans', sans-serif" font-size="10" fill="#262626" stroke="#262626" stroke-width="0.06">0</text>
<text transform="translate(125.32,398.91) scale(1.3057,0.9857)" x="0" y="0" text-anchor="middle" font-family="'Liberation Sans', sans-serif" font-size="10" fill="#262626" stroke="#262626" stroke-width="0.06">50</text>
<text transform="translate(188.14,398.91) scale(1.3057,0.9857)" x="0" y="0" text-anchor="middle" font-family="'Liberation Sans', sans-serif" font-size="10" fill="#262626" stroke="#262626" stroke-width="0.06">100</text>
<text transform="translate(250.95,398.91) scale(1.3057,0.9857)" x="0" y="0" text-anchor="middle" font-family="'Liberation Sans', sans-serif" font-size="10" fill="#262626" stroke="#262626" stroke-width="0.06">150</text>
<text transform="translate(57.30,389.01) scale(1.3057,0.9857)" x="0" y="0" text-anchor="end" font-family="'Liberation Sans', sans-serif" font-size="10" fill="#262626" stroke="#262626" stroke-width="0.06">-0.5</text>
<text transform="translate(57.30,360.52) scale(1.3057,0.9857)" x="0" y="0" text-anchor="end" font-family="'Liberation Sans', sans-serif" font-size="10" fill="#262626" stroke="#262626" stroke-width="0.06">0</text>
<text transform="translate(57.30,332.03) scale(1.3057,0.9857)" x="0" y="0" text-anchor="end" font-family="'Liberation Sans', sans-serif" font-size="10" fill="#262626" stroke="#262626" stroke-width="0.06">0.5</text>
<text transform="translate(57.30,303.54) scale(1.3057,0.9857)" x="0" y="0" text-anchor="end" font-family="'Liberation Sans', sans-serif" font-size="10" fill="#262626" stroke="#262626" stroke-width="0.06">1</text>
<text transform="translate(57.30,275.06) scale(1.3057,0.9857)" x="0" y="0" text-anchor="end" font-family="'Liberation Sans', sans-serif" font-size="10" fill="#262626" stroke="#262626" stroke-width="0.06">1.5</text>
<text transform="translate(57.30,246.57) scale(1.3057,0.9857)" x="0" y="0" text-anchor="end" font-family="'Liberation Sans', sans-serif" font-size="10" fill="#262626" stroke="#262626" stroke-width="0.06">2</text>
<path d="M62.50,385.46v-2.0M62.50,237.4v2.0M125.32,385.46v-2.0M125.32,237.4v2.0M188.14,385.46v-2.0M188.14,237.4v2.0M250.95,385.46v-2.0M250.95,237.4v2.0M62.5,385.46h2.0M269.8,385.46h-2.0M62.5,356.97h2.0M269.8,356.97h-2.0M62.5,328.48h2.0M269.8,328.48h-2.0M62.5,299.99h2.0M269.8,299.99h-2.0M62.5,271.51h2.0M269.8,271.51h-2.0M62.5,243.02h2.0M269.8,243.02h-2.0" stroke="#555" stroke-width="0.8" fill="none"/>
<clipPath id="cBR"><rect x="333.0" y="237.4" width="209.10000000000002" height="148.05999999999997"/></clipPath>
<polyline clip-path="url(#cBR)" points="334.8,332.0 335.5,332.0 336.3,332.0 337.0,332.0 337.7,332.0 338.5,332.0 339.2,332.0 339.9,332.0 340.6,332.0 341.4,332.0 342.1,332.0 342.8,332.0 343.6,332.0 344.3,332.0 345.0,332.0 345.8,332.0 346.5,332.0 347.2,329.6 348.0,330.9 348.8,333.3 349.5,333.7 350.6,327.9 351.4,328.7 352.2,325.2 353.1,327.9 353.9,323.4 354.7,325.4 355.5,324.6 356.4,326.2 357.2,324.6 358.0,326.0 358.8,332.0 359.6,331.3 360.5,325.4 361.3,322.3 362.2,320.6 363.0,319.7 363.8,325.6 364.6,325.5 365.4,332.0 366.2,328.5 367.1,330.0 367.9,327.9 368.7,323.6 369.6,322.5 370.4,321.3 371.2,325.6 372.0,328.7 372.9,322.4 373.7,313.1 374.5,313.7 375.4,313.5 376.2,315.5 377.1,315.9 378.0,312.0 378.8,309.2 379.5,309.8 380.3,323.4 381.1,342.7 381.8,332.4 382.5,320.0 383.5,270.0 384.4,237.5 385.5,260.0 386.5,300.0 387.5,333.2 388.6,324.7 389.3,330.4 390.0,337.9 390.7,345.9 391.4,351.2 392.1,357.7 392.8,360.7 393.6,363.0 394.4,365.7 395.2,369.8 396.0,371.3 396.7,363.9 397.4,360.7 398.1,352.2 398.8,347.9 399.6,346.2 400.3,345.9 401.0,343.3 401.7,336.8 402.4,331.0 403.2,332.4 404.0,329.7 404.8,326.7 405.6,327.9 406.3,326.7 407.0,326.2 407.6,322.1 408.3,320.4 409.2,327.0 410.0,332.7 410.9,336.3 411.7,331.6 412.4,334.0 413.2,327.8 414.0,327.9 414.8,328.7 415.6,333.3 416.4,331.4 417.2,333.2 418.0,331.5 418.8,330.1 419.6,329.3 420.4,326.8 421.1,331.3 421.9,340.6 422.6,337.3 423.2,337.5 423.9,339.0 424.6,336.3 425.3,337.1 426.0,332.7 426.8,331.3 427.5,326.0 428.2,323.8 428.9,323.6 429.6,326.1 430.3,331.1 431.0,332.1 431.9,324.5 432.7,319.4 433.4,330.7 434.2,340.6 435.0,337.2 435.8,333.2 436.6,334.1 437.4,331.0 438.2,333.6 439.0,333.0 439.7,332.1 440.3,331.5 441.0,328.0 441.7,328.3 442.3,332.8 443.0,332.0 443.7,333.6 444.3,330.4 445.0,329.0 445.7,332.4 446.3,333.5 447.0,333.0 447.7,331.7 448.3,331.9 449.0,330.0 449.7,329.0 450.3,330.4 451.0,331.0 451.6,322.5 452.3,312.0 452.9,306.0 453.8,313.5 454.7,316.4 455.5,313.0 456.5,318.0 457.2,335.8 457.9,352.2 458.6,367.0 459.5,350.8 460.4,332.0 461.2,329.9 462.0,326.0 462.7,331.1 463.3,329.3 464.0,333.0 464.7,332.4 465.3,329.3 466.0,327.0 466.8,334.2 467.7,333.2 468.5,339.9 469.2,336.4 470.0,328.0 470.9,329.6 471.7,329.7 472.6,333.0 473.2,335.6 473.9,344.7 474.5,350.2 475.3,331.4 476.0,312.0 476.8,293.8 477.6,289.0 478.3,285.3 479.2,293.3 480.1,305.1 480.8,301.7 481.6,297.5 482.3,293.7 483.0,289.1 483.6,294.4 484.3,303.2 484.8,349.3 485.4,344.1 486.1,334.0 486.7,327.7 487.4,328.0 488.1,332.3 488.8,331.9 489.5,331.4 490.3,333.3 491.2,331.0 492.0,330.0 492.8,327.5 493.5,330.2 494.2,331.2 495.0,331.0 495.9,316.1 496.8,306.2 497.7,313.0 498.6,320.3 499.4,333.3 500.3,348.4 501.1,364.3 501.9,351.8 502.7,340.1 503.5,329.1 504.2,325.4 505.0,319.2 505.8,313.7 506.5,311.5 507.3,318.0 508.0,323.9 508.8,329.1 509.5,330.0 510.2,328.8 510.9,326.5 511.6,327.5 512.2,332.8 512.9,337.5 513.6,342.4 514.4,337.2 515.1,332.6 515.9,329.3 516.6,322.1 517.4,327.2 518.1,328.1 518.9,333.5 519.8,332.7 520.6,329.2 521.5,331.0 522.3,332.9 523.2,332.2 524.0,329.5 524.8,332.0 525.5,330.6 526.2,334.2 527.0,332.5 527.8,330.5 528.5,333.8 529.2,330.6 530.0,330.0 530.8,327.7 531.5,332.8 532.2,333.6 533.0,332.0 533.8,331.7 534.5,331.3 535.2,328.9 536.0,330.0 536.8,328.6 537.5,332.5 538.2,329.9 539.0,332.0 539.8,331.6 540.5,329.7 541.3,328.9 542.1,330.5" fill="none" stroke="#f00" stroke-width="3.0" stroke-linejoin="round"/>
<polyline clip-path="url(#cBR)" points="334.8,332.0 335.5,332.0 336.3,332.0 337.0,332.0 337.7,332.0 338.5,332.0 339.2,332.0 339.9,332.0 340.6,332.0 341.4,332.0 342.1,332.0 342.8,332.0 343.6,332.0 344.3,332.0 345.0,332.0 345.8,332.0 346.5,332.0 347.2,329.9 348.0,331.0 348.8,333.0 349.5,333.7 350.6,327.9 351.4,328.8 352.2,325.8 353.1,327.9 353.9,323.6 354.7,325.4 355.5,325.0 356.4,326.2 357.2,324.6 358.0,326.1 358.8,332.0 359.6,331.0 360.5,325.4 361.3,321.8 362.2,320.3 363.0,319.7 363.8,325.0 364.6,326.3 365.4,332.0 366.2,328.3 367.1,329.7 367.9,327.9 368.7,323.5 369.6,322.3 370.4,321.3 371.2,326.3 372.0,328.7 372.9,322.5 373.7,313.1 374.5,313.8 375.4,313.4 376.2,315.5 377.1,316.1 378.0,312.0 378.8,309.8 379.5,309.8 380.3,324.2 381.1,342.7 381.8,332.1 382.5,320.0 383.5,270.0 384.4,237.5 385.5,260.0 386.5,300.0 387.5,333.2 388.6,324.7 389.3,329.9 390.0,338.6 390.7,345.9 391.4,351.2 392.1,357.1 392.8,360.7 393.6,365.4 394.4,369.2 395.2,376.9 396.0,379.8 396.7,370.0 397.4,363.9 398.1,352.2 398.8,348.0 399.6,346.0 400.3,345.9 401.0,343.0 401.7,337.1 402.4,331.0 403.2,331.7 404.0,330.0 404.8,326.5 405.6,327.9 406.3,326.9 407.0,325.7 407.6,322.0 408.3,320.4 409.2,326.8 410.0,333.4 410.9,336.3 411.7,332.0 412.4,333.4 413.2,328.3 414.0,327.9 414.8,329.3 415.6,332.6 416.4,332.1 417.2,333.2 418.0,331.1 418.8,329.6 419.6,329.2 420.4,326.8 421.1,332.0 421.9,340.6 422.6,337.2 423.2,337.7 423.9,339.4 424.6,336.3 425.3,336.3 426.0,332.6 426.8,331.0 427.5,325.4 428.2,323.7 428.9,323.6 429.6,325.9 430.3,331.5 431.0,332.1 431.9,324.1 432.7,319.4 433.4,330.7 434.2,340.6 435.0,337.1 435.8,333.4 436.6,334.4 437.4,331.0 438.2,333.9 439.0,333.0 439.7,331.6 440.3,332.3 441.0,328.0 441.7,328.4 442.3,332.3 443.0,332.0 443.7,333.4 444.3,330.5 445.0,329.0 445.7,332.6 446.3,333.9 447.0,333.0 447.7,332.3 448.3,331.4 449.0,330.0 449.7,328.8 450.3,330.0 451.0,331.0 451.6,322.2 452.3,312.1 452.9,306.0 453.8,313.5 454.7,316.4 455.5,313.0 456.5,318.0 457.2,335.1 457.9,352.3 458.6,367.0 459.5,350.8 460.4,332.0 461.2,329.7 462.0,326.0 462.7,330.9 463.3,329.0 464.0,333.0 464.7,332.0 465.3,328.7 466.0,327.0 466.8,333.6 467.7,334.0 468.5,339.9 469.2,335.9 470.0,328.0 470.9,329.0 471.7,329.1 472.6,333.0 473.2,336.3 473.9,344.2 474.5,350.2 475.3,331.7 476.0,311.5 476.8,293.8 477.6,288.9 478.3,285.3 479.2,290.5 480.1,299.5 480.8,297.5 481.6,294.3 482.3,291.8 483.0,289.1 483.6,294.2 484.3,303.2 484.8,349.3 485.4,343.9 486.1,334.4 486.7,327.7 487.4,328.8 488.1,331.8 488.8,332.6 489.5,331.4 490.3,333.0 491.2,331.0 492.0,330.0 492.8,327.9 493.5,329.8 494.2,331.8 495.0,331.0 495.9,316.1 496.8,306.2 497.7,312.8 498.6,320.3 499.4,332.7 500.3,348.2 501.1,364.3 501.9,352.5 502.7,340.0 503.5,329.1 504.2,326.1 505.0,319.2 505.8,313.9 506.5,311.5 507.3,318.5 508.0,324.2 508.8,329.1 509.5,329.6 510.2,328.2 510.9,326.5 511.6,328.2 512.2,332.8 512.9,337.0 513.6,342.4 514.4,337.8 515.1,333.1 515.9,329.0 516.6,322.1 517.4,327.4 518.1,328.0 518.9,333.5 519.8,333.3 520.6,329.4 521.5,331.0 522.3,332.9 523.2,332.1 524.0,329.5 524.8,332.1 525.5,330.6 526.2,333.7 527.0,332.5 527.8,329.9 528.5,333.5 529.2,329.9 530.0,330.0 530.8,328.1 531.5,332.3 532.2,333.0 533.0,332.0 533.8,331.3 534.5,331.3 535.2,328.1 536.0,330.0 536.8,328.9 537.5,333.0 538.2,329.9 539.0,332.0 539.8,331.1 540.5,330.4 541.3,329.3 542.1,330.5" fill="none" stroke="#00f" stroke-width="2.8" stroke-dasharray="4 1.3" stroke-linejoin="round"/>
<line x1="335.0" y1="236.9" x2="335.0" y2="385.96" stroke="#262626" stroke-width="1"/>
<line x1="334.5" y1="237.4" x2="542.6" y2="237.4" stroke="#3a3a3a" stroke-width="1.2"/>
<line x1="542.1" y1="236.9" x2="542.1" y2="385.96" stroke="#262626" stroke-width="1"/>
<line x1="334.5" y1="385.46" x2="542.6" y2="385.46" stroke="#666" stroke-width="1.3"/>
<text transform="translate(335.00,398.91) scale(1.3057,0.9857)" x="0" y="0" text-anchor="middle" font-family="'Liberation Sans', sans-serif" font-size="10" fill="#262626" stroke="#262626" stroke-width="0.06">0</text>
<text transform="translate(397.76,398.91) scale(1.3057,0.9857)" x="0" y="0" text-anchor="middle" font-family="'Liberation Sans', sans-serif" font-size="10" fill="#262626" stroke="#262626" stroke-width="0.06">50</text>
<text transform="translate(460.52,398.91) scale(1.3057,0.9857)" x="0" y="0" text-anchor="middle" font-family="'Liberation Sans', sans-serif" font-size="10" fill="#262626" stroke="#262626" stroke-width="0.06">100</text>
<text transform="translate(523.27,398.91) scale(1.3057,0.9857)" x="0" y="0" text-anchor="middle" font-family="'Liberation Sans', sans-serif" font-size="10" fill="#262626" stroke="#262626" stroke-width="0.06">150</text>
<text transform="translate(329.80,365.32) scale(1.3057,0.9857)" x="0" y="0" text-anchor="end" font-family="'Liberation Sans', sans-serif" font-size="10" fill="#262626" stroke="#262626" stroke-width="0.06">-1</text>
<text transform="translate(329.80,335.71) scale(1.3057,0.9857)" x="0" y="0" text-anchor="end" font-family="'Liberation Sans', sans-serif" font-size="10" fill="#262626" stroke="#262626" stroke-width="0.06">0</text>
<text transform="translate(329.80,306.10) scale(1.3057,0.9857)" x="0" y="0" text-anchor="end" font-family="'Liberation Sans', sans-serif" font-size="10" fill="#262626" stroke="#262626" stroke-width="0.06">1</text>
<text transform="translate(329.80,276.48) scale(1.3057,0.9857)" x="0" y="0" text-anchor="end" font-family="'Liberation Sans', sans-serif" font-size="10" fill="#262626" stroke="#262626" stroke-width="0.06">2</text>
<text transform="translate(329.80,246.87) scale(1.3057,0.9857)" x="0" y="0" text-anchor="end" font-family="'Liberation Sans', sans-serif" font-size="10" fill="#262626" stroke="#262626" stroke-width="0.06">3</text>
<path d="M335.00,385.46v-2.0M335.00,237.4v2.0M397.76,385.46v-2.0M397.76,237.4v2.0M460.52,385.46v-2.0M460.52,237.4v2.0M523.27,385.46v-2.0M523.27,237.4v2.0M335.0,361.77h2.0M542.1,361.77h-2.0M335.0,332.16h2.0M542.1,332.16h-2.0M335.0,302.55h2.0M542.1,302.55h-2.0M335.0,272.93h2.0M542.1,272.93h-2.0M335.0,243.32h2.0M542.1,243.32h-2.0" stroke="#555" stroke-width="0.8" fill="none"/>
</svg></body></html>
